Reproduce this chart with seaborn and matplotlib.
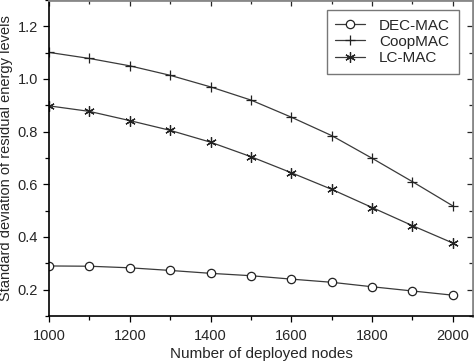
import numpy as np
import pandas as pd
import seaborn as sns
from matplotlib import pyplot as plt
from matplotlib.ticker import MultipleLocator

nodes = [1000, 1100, 1200, 1300, 1400, 1500, 1600, 1700, 1800, 1900, 2000]
dec_mac = [0.290, 0.289, 0.283, 0.273, 0.262, 0.253, 0.240, 0.228, 0.211, 0.195, 0.179]
coop_mac = [1.101, 1.078, 1.050, 1.014, 0.970, 0.920, 0.855, 0.785, 0.699, 0.610, 0.518]
lc_mac = [0.898, 0.877, 0.842, 0.805, 0.760, 0.705, 0.644, 0.581, 0.512, 0.443, 0.377]
protocols = ["DEC-MAC", "CoopMAC", "LC-MAC"]

sns.set_style("ticks")
plt.rcParams['font.family'] = ['Liberation Sans', 'DejaVu Sans']

fig = plt.figure(figsize=(4.74, 3.63), dpi=100)
ax = fig.add_axes([0.1034, 0.1295, 0.8946, 0.8705])

# one call per series: seaborn won't mix filled and line-art markers
styles = [("o", 6), ("+", 6.5), ((6, 2, 0), 7.5)]
for name, vals, (mk, ms) in zip(protocols, [dec_mac, coop_mac, lc_mac], styles):
    sns.lineplot(x=nodes, y=vals, label=name, marker=mk, markersize=ms,
                 color="#3a3a3a", linewidth=0.9, markerfacecolor="white",
                 markeredgecolor="#222222", markeredgewidth=0.9, ax=ax)

ax.set_xlim(1000, 2050)
ax.set_ylim(0.1, 1.3)
ax.xaxis.set_major_locator(MultipleLocator(200))
ax.xaxis.set_minor_locator(MultipleLocator(100))
ax.yaxis.set_major_locator(MultipleLocator(0.2))
ax.yaxis.set_minor_locator(MultipleLocator(0.1))
ax.yaxis.set_major_formatter(plt.FormatStrFormatter('%.1f'))

ax.tick_params(which='both', labelsize=10.5, color='black')
ax.tick_params(which='major', length=4.5, width=0.9)
ax.tick_params(which='minor', length=3, width=0.9)
ax.tick_params(axis='x', which='major', pad=5)

# inward mirror ticks on top and right, no labels
top = ax.secondary_xaxis('top')
top.xaxis.set_major_locator(MultipleLocator(200))
top.xaxis.set_minor_locator(MultipleLocator(100))
top.tick_params(which='both', direction='in', labeltop=False, width=0.9)
right = ax.secondary_yaxis('right')
right.yaxis.set_major_locator(MultipleLocator(0.2))
right.yaxis.set_minor_locator(MultipleLocator(0.1))
right.tick_params(which='both', direction='in', labelright=False, width=0.9)
for sec in (top, right):
    sec.tick_params(which='major', length=4.5)
    sec.tick_params(which='minor', length=3)
    for sp in sec.spines.values():
        sp.set_visible(False)

for s in ['left', 'bottom']:
    ax.spines[s].set_linewidth(1.2)
    ax.spines[s].set_color('black')
for s in ['top', 'right']:
    ax.spines[s].set_linewidth(2)
    ax.spines[s].set_color('#888888')

ax.set_xlabel("Number of deployed nodes", fontsize=11, labelpad=3)
ax.set_ylabel("Standard deviation of residual energy levels", fontsize=10.5,
              labelpad=3)

leg = ax.legend(title=None, loc="upper right", bbox_to_anchor=(0.966, 0.968),
                borderaxespad=0, fontsize=11, frameon=True, fancybox=False,
                edgecolor="#555555", handlelength=2.0, handletextpad=0.9,
                borderpad=0.55, labelspacing=0.15)
leg.get_frame().set_linewidth(1.0)

fig.savefig("out.png", dpi=100)
